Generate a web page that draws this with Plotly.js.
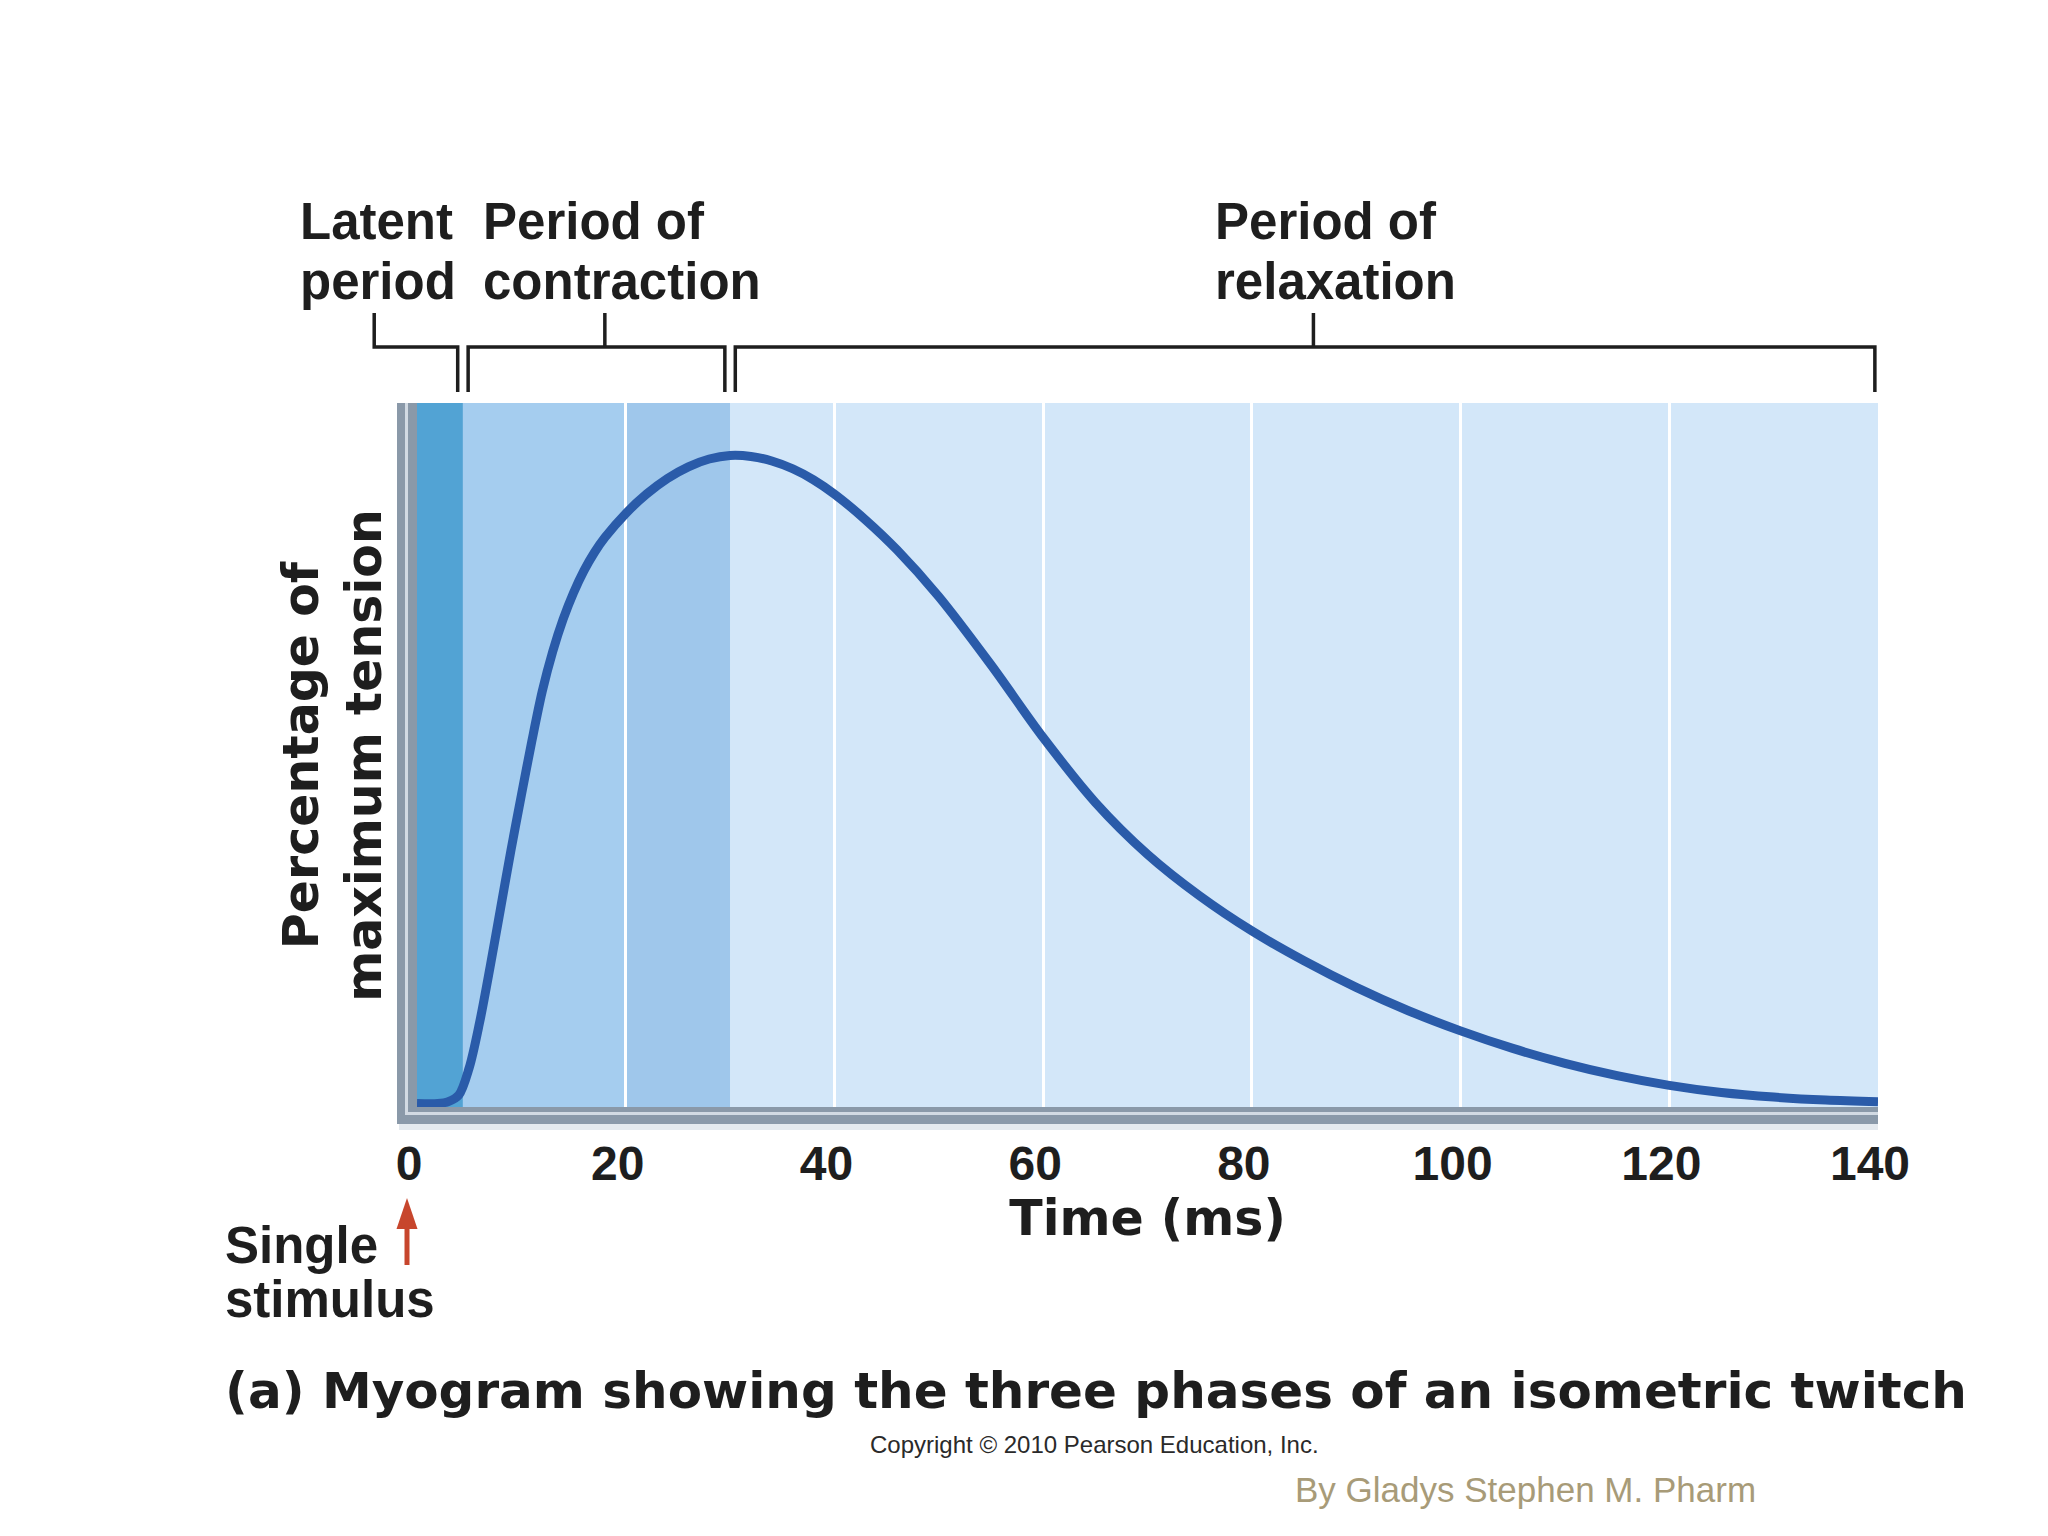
<!DOCTYPE html>
<html>
<head>
<meta charset="utf-8">
<script src="https://cdn.plot.ly/plotly-3.0.1.min.js"></script>
<style>
  html, body { margin: 0; padding: 0; background: #ffffff; }
  #chart { width: 2048px; height: 1536px; }
</style>
</head>
<body>
<div id="chart"></div>
<script>
// Isometric twitch myogram: tension (% of maximum) against time after the stimulus (ms)
const timeMs = [0, 2, 3, 4, 5, 6, 7, 8, 9, 10, 11, 12, 13, 14, 15, 16, 17, 18, 20, 22, 24, 26, 28, 30,
                32, 34, 36, 38, 40, 43, 46, 50, 55, 60, 65, 70, 75, 80, 85, 90, 95, 100, 105, 110,
                115, 120, 125, 130, 135, 140];
const tensionPct = [0, 0, 0.3, 1.3, 5.5, 12.5, 21, 30, 39, 47.5, 55.8, 63.5, 69.6, 74.6, 78.7, 82.1,
                    84.9, 87.2, 90.9, 93.9, 96.3, 98.1, 99.3, 99.85, 99.7, 99.0, 97.8, 96.1, 93.9,
                    89.9, 85.3, 78.1, 67.6, 56.4, 46.4, 38.4, 32.0, 26.6, 22.0, 17.9, 14.3, 11.2,
                    8.5, 6.2, 4.3, 2.8, 1.7, 1.0, 0.55, 0.3];
const tickValues = [0, 20, 40, 60, 80, 100, 120, 140];

// Phases of the twitch (ms)
const phaseLabels = [["Latent", "period"], ["Period of", "contraction"], ["Period of", "relaxation"]];
const phaseBounds = [0, 4.4, 30, 140];
// Background shading breaks (ms)
const shadeBreaks = [0, 4.4, 20, 30, 140];
const stimulusMs = 0;

// ---- page geometry (px) ----
const W = 2048, H = 1536;
const L = 417, R = 1878, T = 403, B = 1108;
const xMax = 140;
const px = (p) => (p - L) / (R - L);        // page x px -> paper x
const py = (p) => (B - p) / (B - T);        // page y px -> paper y
const msPaper = (ms) => ms / xMax;          // ms -> paper x

const shadeColors = ["#52a3d4", "#a5cdef", "#9fc7eb", "#d3e7f9"];
const ink = "#1e1e1e";
const heavy = "DejaVu Sans, Liberation Sans, sans-serif";
const sans = "Liberation Sans, Arial, sans-serif";

const shapes = [];

// shaded bands behind the curve
for (let i = 0; i < shadeBreaks.length - 1; i++) {
  shapes.push({
    type: "rect", layer: "below", xref: "x", yref: "paper",
    x0: shadeBreaks[i], x1: shadeBreaks[i + 1], y0: 0, y1: 1,
    fillcolor: shadeColors[i], line: { width: 0 }
  });
}

// bevelled frame on the left and bottom
const frameGray = "#8a99a9", frameLight = "#d2dae3";
shapes.push({ type: "rect", layer: "above", xref: "paper", yref: "paper",
  x0: px(397), x1: 0, y0: py(1124), y1: 1, fillcolor: frameGray, line: { width: 0 } });
shapes.push({ type: "rect", layer: "above", xref: "paper", yref: "paper",
  x0: px(397), x1: 1, y0: py(1124), y1: py(1107), fillcolor: frameGray, line: { width: 0 } });
shapes.push({ type: "rect", layer: "above", xref: "paper", yref: "paper",
  x0: px(405), x1: px(408), y0: py(1115), y1: 1, fillcolor: frameLight, line: { width: 0 } });
shapes.push({ type: "rect", layer: "above", xref: "paper", yref: "paper",
  x0: px(405), x1: 1, y0: py(1115), y1: py(1112), fillcolor: frameLight, line: { width: 0 } });
shapes.push({ type: "rect", layer: "above", xref: "paper", yref: "paper",
  x0: px(399), x1: 1, y0: py(1130), y1: py(1124), fillcolor: "#e4e9ee", line: { width: 0 } });

// phase brackets above the plot
const yBar = py(347), yDown = py(392), yUp = py(313);
const gap = 0.5;
const bracketTick = [-4.1, 18, 85.9];
const bracketStyle = { color: ink, width: 3.5 };
function pathShape(d) {
  shapes.push({ type: "path", xref: "paper", yref: "paper", path: d, line: bracketStyle, layer: "above" });
}
// latent period: tick up to its label on the left, tick down at its end
{
  const xe = msPaper(phaseBounds[1] - gap), xt = msPaper(bracketTick[0]);
  pathShape(`M ${xt} ${yUp} L ${xt} ${yBar} L ${xe} ${yBar} L ${xe} ${yDown}`);
}
for (let i = 1; i < 3; i++) {
  const xs = msPaper(phaseBounds[i] + gap);
  const xe = msPaper(phaseBounds[i + 1] - (i === 2 ? 0.3 : gap));
  const xt = msPaper(bracketTick[i]);
  pathShape(`M ${xs} ${yDown} L ${xs} ${yBar} L ${xe} ${yBar} L ${xe} ${yDown}`);
  pathShape(`M ${xt} ${yBar} L ${xt} ${yUp}`);
}

// stimulus arrow under the time axis
{
  const ax = L + (stimulusMs / xMax) * (R - L) - 10;
  const tipY = 1198, headY = 1229, tailY = 1265, half = 10.5, shaft = 2.5;
  const red = "#c7462d";
  shapes.push({ type: "path", xref: "paper", yref: "paper", layer: "above",
    path: `M ${px(ax)} ${py(tipY)} L ${px(ax + half)} ${py(headY)} L ${px(ax - half)} ${py(headY)} Z`,
    fillcolor: red, line: { width: 0 } });
  shapes.push({ type: "rect", xref: "paper", yref: "paper", layer: "above",
    x0: px(ax - shaft), x1: px(ax + shaft), y0: py(tailY), y1: py(headY - 2),
    fillcolor: red, line: { width: 0 } });
}

const annotations = [];
function label(text, xPaper, yPaper, font, anchor) {
  annotations.push({ text: text, xref: "paper", yref: "paper", x: xPaper, y: yPaper,
    xanchor: anchor || "left", yanchor: "middle", showarrow: false, font: font });
}
const phaseFont = { family: sans, size: 51, color: ink, weight: "bold" };
const phaseLeft = [298, 481, 1213];
for (let i = 0; i < 3; i++) {
  label(phaseLabels[i][0], px(phaseLeft[i]), py(222), phaseFont);
  label(phaseLabels[i][1], px(phaseLeft[i]), py(281), phaseFont);
}
label("Single", px(223), py(1245), phaseFont);
label("stimulus", px(223), py(1299), phaseFont);
label("Copyright © 2010 Pearson Education, Inc.", px(1094), py(1444),
  { family: sans, size: 24, color: "#2a2a2a" }, "center");
label("By Gladys Stephen M. Pharm", px(1525), py(1489),
  { family: "Liberation Sans Narrow, Liberation Sans, Arial, sans-serif", size: 35, color: "#a89b78" }, "center");

const trace = {
  type: "scatter", mode: "lines", x: timeMs, y: tensionPct,
  line: { color: "#2a5ba9", width: 9, shape: "spline", smoothing: 0.9 },
  hoverinfo: "skip", showlegend: false
};

const layout = {
  width: W, height: H,
  margin: { l: L, r: W - R, t: T, b: H - B, pad: 0 },
  paper_bgcolor: "#ffffff",
  plot_bgcolor: shadeColors[3],
  showlegend: false,
  title: {
    text: "(a) Myogram showing the three phases of an isometric twitch",
    font: { family: heavy, size: 50, color: ink, weight: "bold" },
    x: 1096 / W, xanchor: "center", y: 1 - 1390 / H, yanchor: "middle",
    xref: "container", yref: "container"
  },
  xaxis: {
    range: [0, xMax], tickvals: tickValues, ticktext: tickValues.map(String),
    showgrid: true, gridcolor: "#ffffff", gridwidth: 3,
    zeroline: false, showline: false, ticks: "",
    ticklabelstandoff: 23, ticklabelshift: -8,
    tickfont: { family: sans, size: 48, color: ink, weight: "bold" },
    title: { text: "Time (ms)", standoff: 10,
      font: { family: heavy, size: 49, color: ink, weight: "bold" } },
    automargin: false, fixedrange: true
  },
  yaxis: {
    range: [-0.68, 107.93], showgrid: false, zeroline: false, showline: false,
    showticklabels: false, ticks: "",
    title: { text: "Percentage of<br>maximum tension", standoff: 18,
      font: { family: heavy, size: 49, color: ink, weight: "bold" } },
    automargin: false, fixedrange: true
  },
  shapes: shapes,
  annotations: annotations
};

Plotly.newPlot("chart", [trace], layout, { staticPlot: true, displayModeBar: false });
</script>
</body>
</html>
